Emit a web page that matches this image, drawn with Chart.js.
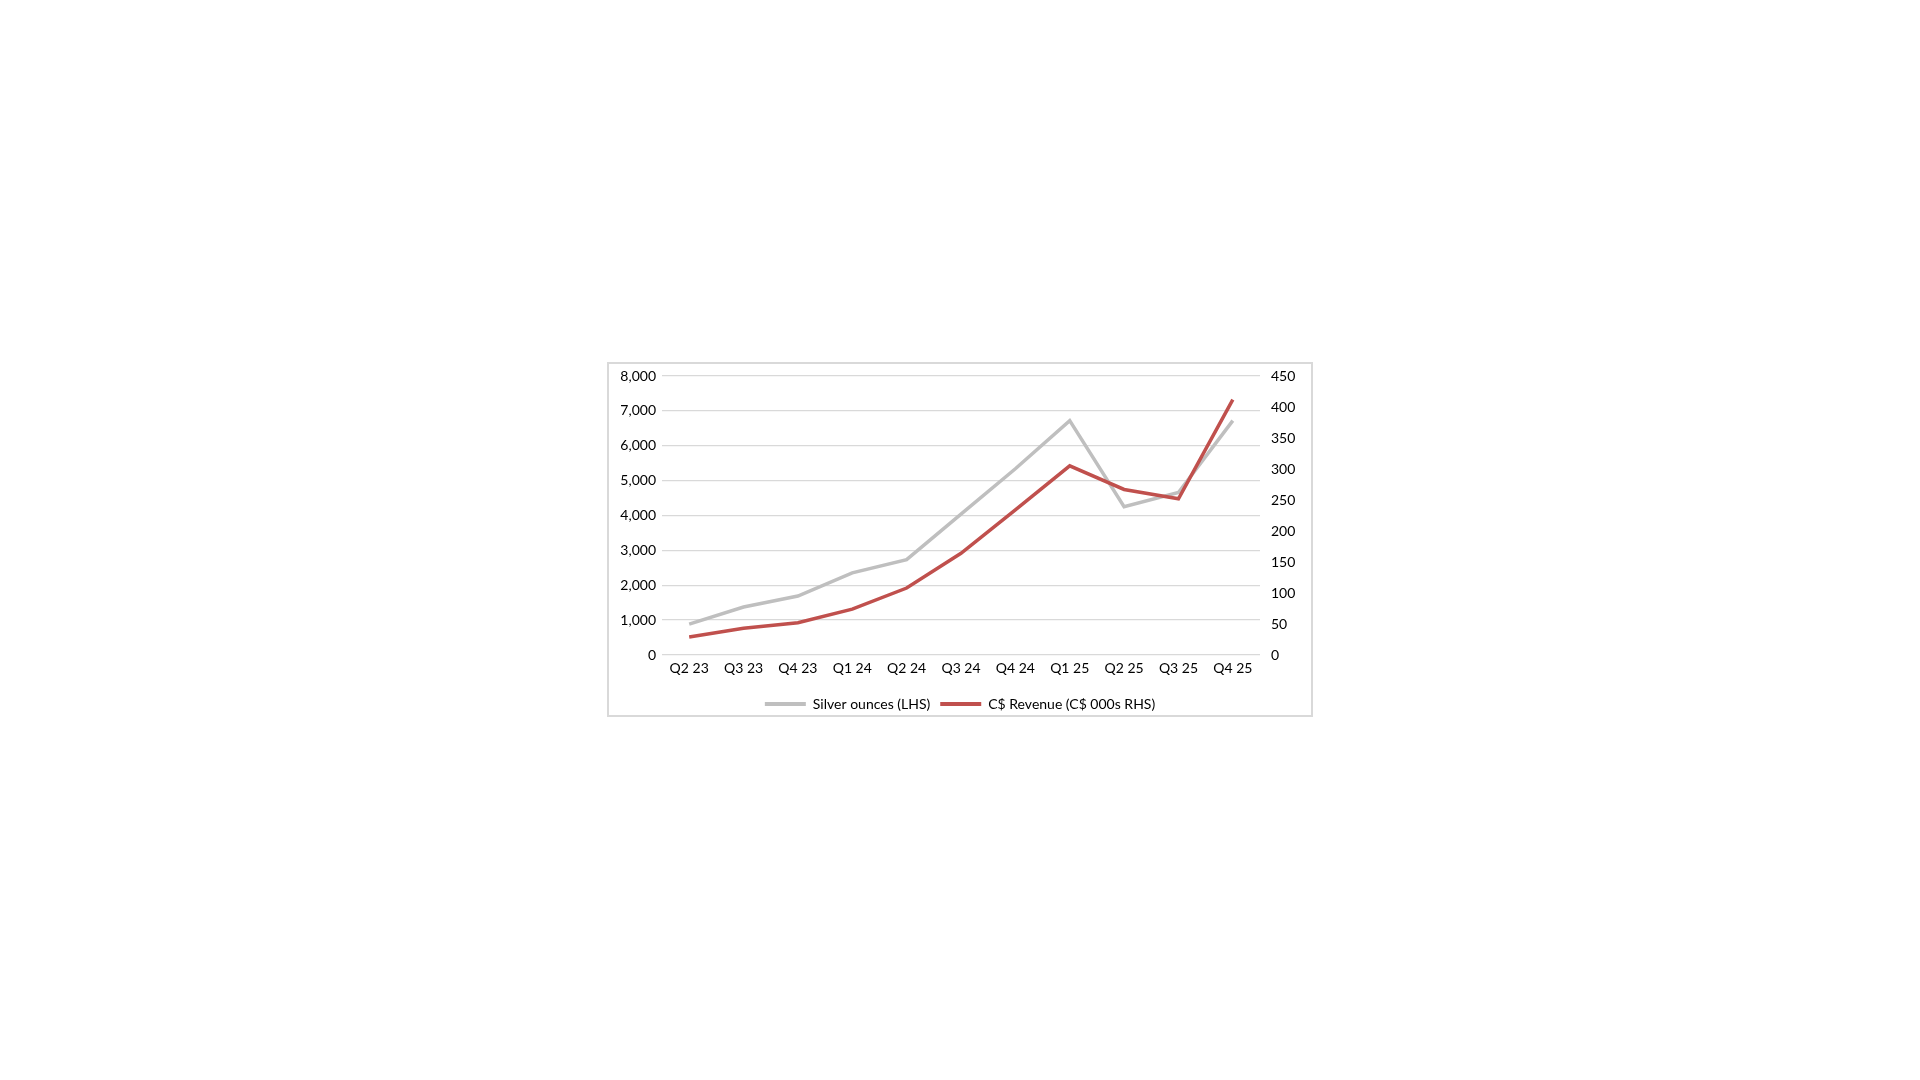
<!DOCTYPE html>
<html>
<head>
<meta charset="utf-8">
<script src="https://cdn.jsdelivr.net/npm/chart.js@4.4.1/dist/chart.umd.min.js"></script>
<style>
  html, body { margin: 0; padding: 0; background: #fff; }
  #box {
    position: absolute; left: 607px; top: 362px;
    width: 706px; height: 355px; box-sizing: border-box;
    border: 2px solid #d9d9d9; background: #fff; overflow: hidden;
  }
  #box canvas { display: block; }
</style>
</head>
<body>
<div id="box"><canvas id="chart" width="702" height="357"></canvas></div>
<script>
//----- Data -----//

const quarters = ['Q2 23', 'Q3 23', 'Q4 23', 'Q1 24', 'Q2 24', 'Q3 24', 'Q4 24', 'Q1 25', 'Q2 25', 'Q3 25', 'Q4 25']
const silverOunces = [885, 1375, 1690, 2355, 2735, 4040, 5340, 6720, 4250, 4660, 6720]
const revenue = [29, 43, 52, 74, 108, 164, 234, 305, 267, 252, 412]

const leftTicks = [0, 1000, 2000, 3000, 4000, 5000, 6000, 7000, 8000]
const rightTicks = [0, 50, 100, 150, 200, 250, 300, 350, 400, 450]

//----- Chart -----//

const font = { family: 'Lato', size: 14 }

// fixed axis sizes so the plot area sits where the original one does
function fixY(width) {
  return (scale) => {
    scale.width = width
    scale.paddingTop = 0
    scale.paddingBottom = 0
  }
}

new Chart(document.getElementById('chart'), {
  type: 'line',
  data: {
    labels: quarters,
    datasets: [
      {
        label: 'Silver ounces (LHS)',
        data: silverOunces,
        borderColor: '#bfbfbf',
        backgroundColor: '#bfbfbf',
        borderWidth: 3.5,
        yAxisID: 'y',
        order: 2
      },
      {
        label: 'C$ Revenue (C$ 000s RHS)',
        data: revenue,
        borderColor: '#c0504d',
        backgroundColor: '#c0504d',
        borderWidth: 3.5,
        yAxisID: 'y1',
        order: 1
      }
    ]
  },
  options: {
    responsive: false,
    animation: false,
    elements: { point: { radius: 0 }, line: { tension: 0, borderJoinStyle: 'miter' } },
    layout: { padding: { top: 12, left: 0, right: 0, bottom: 0 } },
    plugins: {
      tooltip: { enabled: false },
      legend: {
        position: 'bottom',
        labels: {
          color: '#000',
          font: font,
          boxWidth: 41,
          boxHeight: 4,
          padding: 10,
          generateLabels: (chart) => chart.data.datasets.map((ds, i) => ({
            text: ds.label,
            fillStyle: ds.borderColor,
            strokeStyle: ds.borderColor,
            lineWidth: 0,
            datasetIndex: i
          }))
        }
      }
    },
    scales: {
      x: {
        offset: true,
        grid: { display: false, drawTicks: false },
        border: { display: false },
        ticks: { color: '#000', font: font, padding: 5, maxRotation: 0 },
        afterFit: (scale) => { scale.height = 32 }
      },
      y: {
        position: 'left',
        min: leftTicks[0],
        max: leftTicks[leftTicks.length - 1],
        grid: { color: '#d9d9d9', lineWidth: 1.3, drawTicks: false },
        border: { display: false },
        ticks: {
          color: '#000',
          font: font,
          padding: 6,
          callback: (v) => v.toLocaleString('en-US')
        },
        afterBuildTicks: (scale) => { scale.ticks = leftTicks.map((v) => ({ value: v })) },
        afterFit: fixY(53)
      },
      y1: {
        position: 'right',
        min: rightTicks[0],
        max: rightTicks[rightTicks.length - 1],
        grid: { display: false, drawTicks: false },
        border: { display: false },
        ticks: { color: '#000', font: font, padding: 11 },
        afterBuildTicks: (scale) => { scale.ticks = rightTicks.map((v) => ({ value: v })) },
        afterFit: fixY(51)
      }
    }
  }
})
</script>
</body>
</html>
